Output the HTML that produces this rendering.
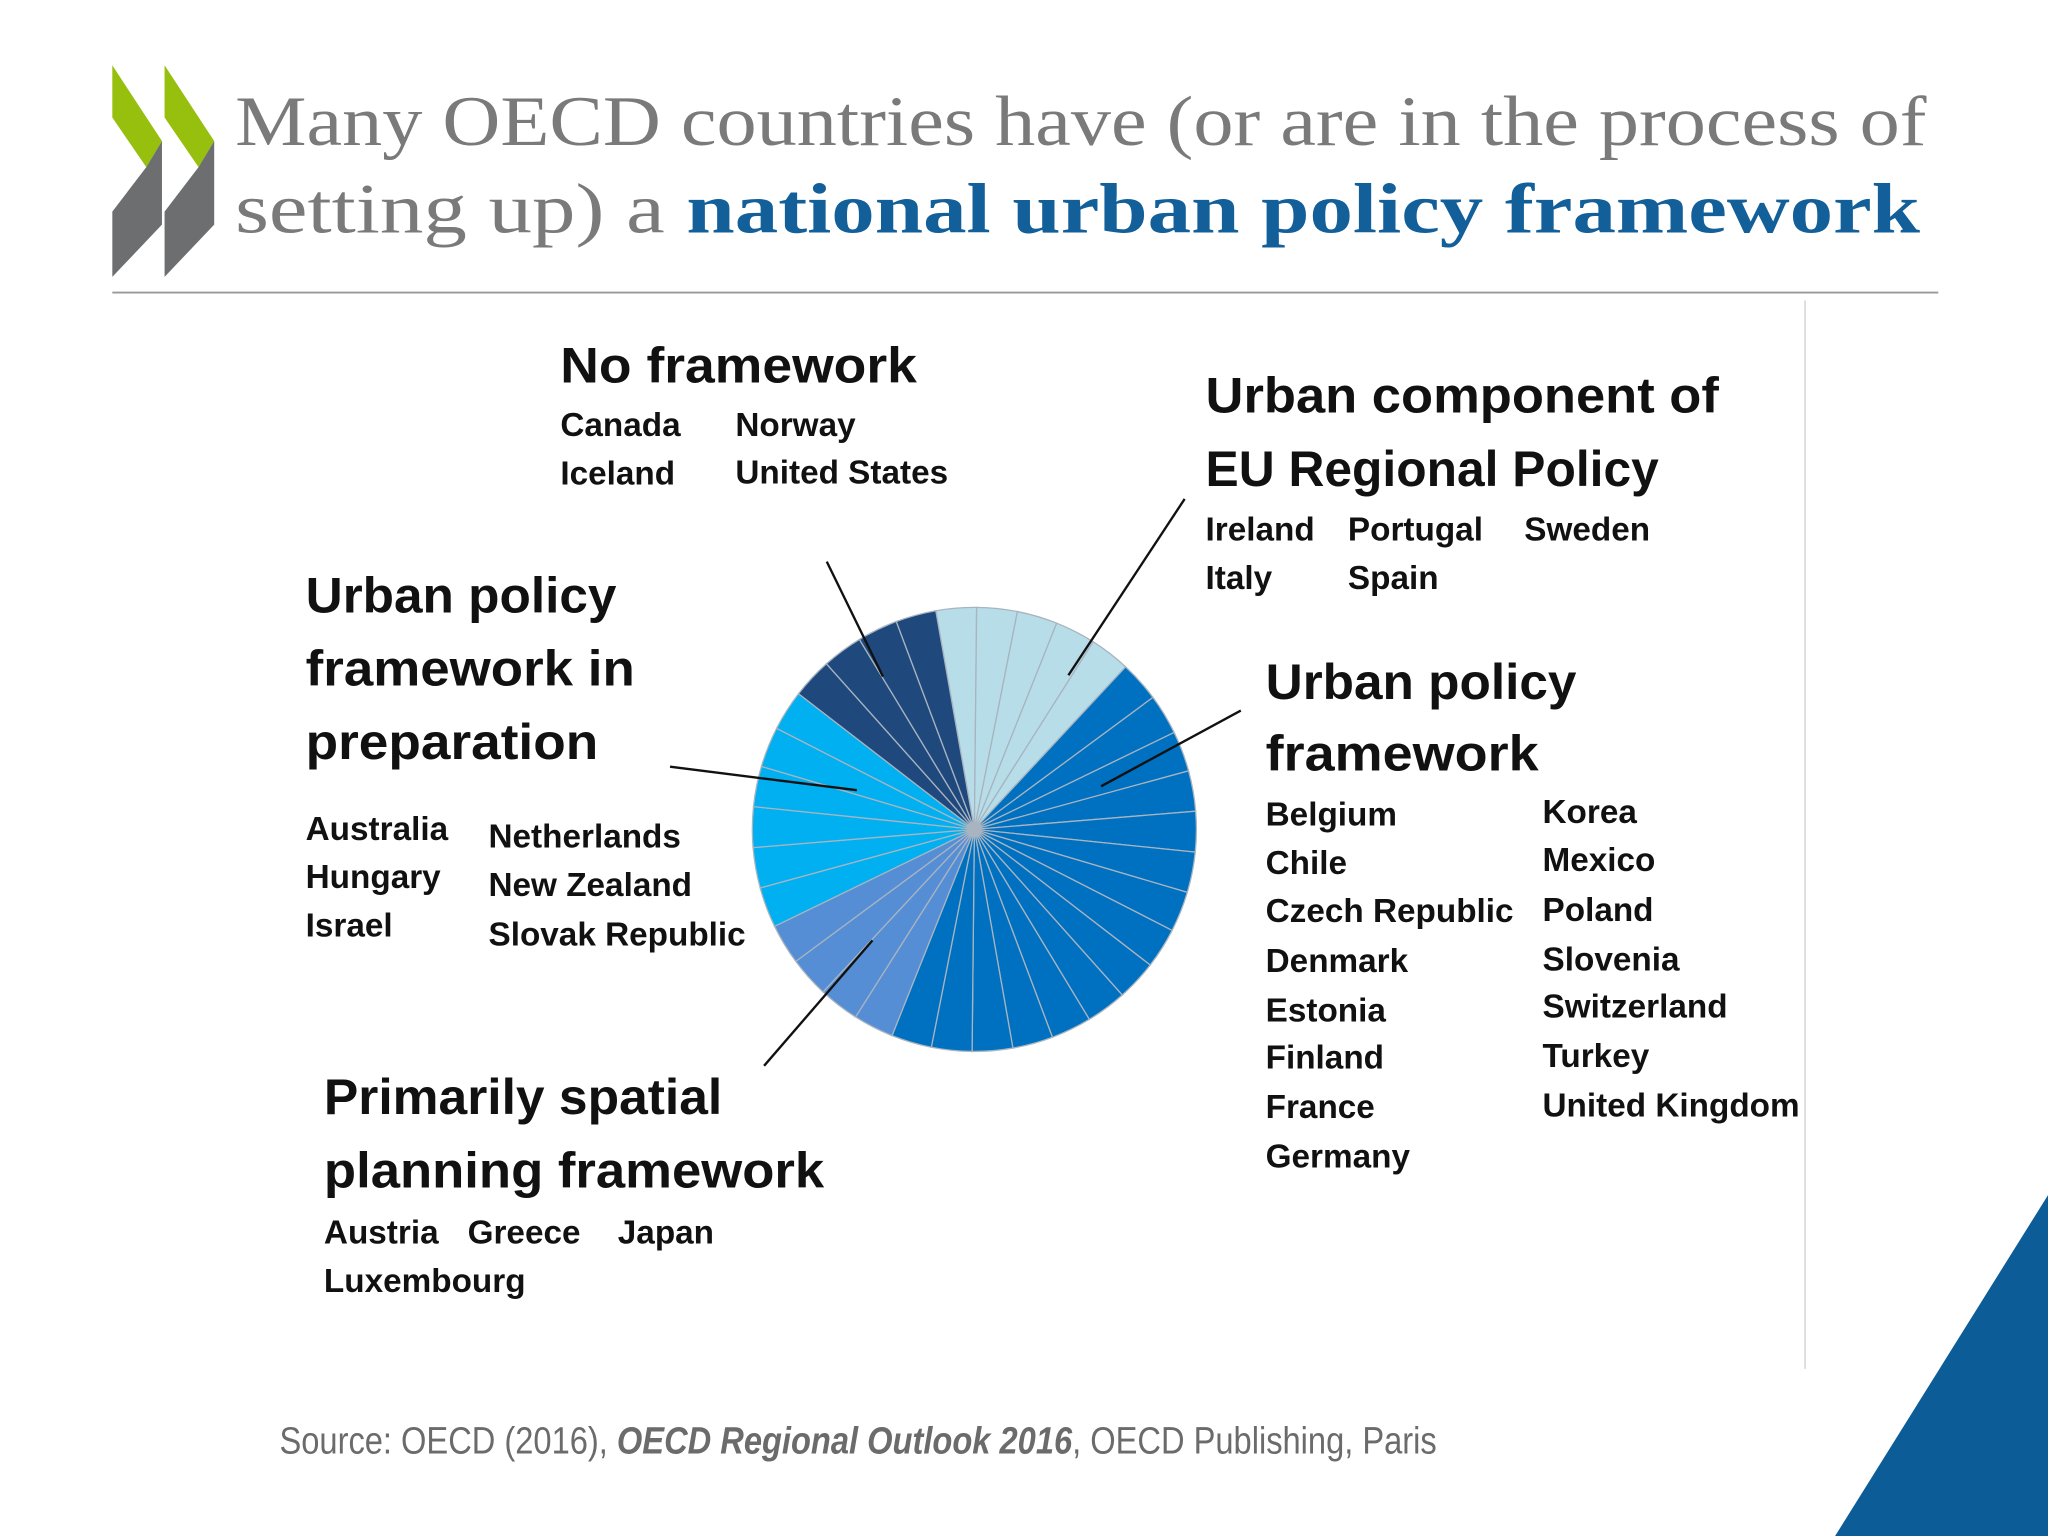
<!DOCTYPE html>
<html><head><meta charset="utf-8"><style>
html,body{margin:0;padding:0;background:#fff;}
svg{display:block;}
.h{font-family:"Liberation Sans",sans-serif;font-weight:bold;font-size:38px;fill:#111;}
.c{font-family:"Liberation Sans",sans-serif;font-weight:bold;font-size:25.5px;fill:#111;}
</style></head><body>
<svg id="chart" width="2048" height="1536" viewBox="0 0 1568 1176" xmlns="http://www.w3.org/2000/svg">
<rect width="1568" height="1176" fill="#fff"/>
<g>
<polygon points="86,50 124,108 112,128 86,90" fill="#97bf0d"/>
<polygon points="124,108 124,172 86,212 86,162 112,128" fill="#6d6e70"/>
<polygon points="126,50 164,108 152,128 126,90" fill="#97bf0d"/>
<polygon points="164,108 164,172 126,212 126,162 152,128" fill="#6d6e70"/>
</g>
<text x="180" y="111" font-family="Liberation Serif, serif" font-size="54" fill="#7a7a7a" textLength="1295" lengthAdjust="spacingAndGlyphs">Many OECD countries have (or are in the process of</text>
<text x="180" y="178" font-family="Liberation Serif, serif" font-size="54" fill="#7a7a7a" textLength="1290" lengthAdjust="spacingAndGlyphs">setting up) a <tspan font-weight="bold" fill="#135f9a">national urban policy framework</tspan></text>
<line x1="86" y1="224" x2="1484" y2="224" stroke="#999" stroke-width="1.5"/>
<line x1="1382" y1="230" x2="1382" y2="1048" stroke="#ddd" stroke-width="1.5"/>
<polygon points="1568,915 1568,1176 1405,1176" fill="#0b5c97"/>
<g id="pie"></g>
<g stroke="#111" stroke-width="1.8">
<line x1="633" y1="430" x2="676" y2="518"/>
<line x1="907" y1="382" x2="818" y2="517"/>
<line x1="950" y1="544" x2="843" y2="602"/>
<line x1="513" y1="587" x2="656" y2="605"/>
<line x1="585" y1="816" x2="668" y2="720"/>
</g>
<g>
<text class="h" x="429" y="293" textLength="273" lengthAdjust="spacingAndGlyphs">No framework</text>
<text class="c" x="429" y="334">Canada</text><text class="c" x="563" y="334">Norway</text>
<text class="c" x="429" y="371">Iceland</text><text class="c" x="563" y="370">United States</text>
</g>
<g>
<text class="h" x="923" y="316" textLength="393" lengthAdjust="spacingAndGlyphs">Urban component of</text>
<text class="h" x="923" y="372" textLength="347" lengthAdjust="spacingAndGlyphs">EU Regional Policy</text>
<text class="c" x="923" y="414">Ireland</text><text class="c" x="1032" y="414">Portugal</text><text class="c" x="1167" y="414">Sweden</text>
<text class="c" x="923" y="451">Italy</text><text class="c" x="1032" y="451">Spain</text>
</g>
<g>
<text class="h" x="234" y="469" textLength="238" lengthAdjust="spacingAndGlyphs">Urban policy</text>
<text class="h" x="234" y="525" textLength="252" lengthAdjust="spacingAndGlyphs">framework in</text>
<text class="h" x="234" y="581" textLength="224" lengthAdjust="spacingAndGlyphs">preparation</text>
<text class="c" x="234" y="643">Australia</text><text class="c" x="234" y="680">Hungary</text><text class="c" x="234" y="717">Israel</text>
<text class="c" x="374" y="649">Netherlands</text><text class="c" x="374" y="686">New Zealand</text><text class="c" x="374" y="724">Slovak Republic</text>
</g>
<g>
<text class="h" x="969" y="535" textLength="238" lengthAdjust="spacingAndGlyphs">Urban policy</text>
<text class="h" x="969" y="590" textLength="209" lengthAdjust="spacingAndGlyphs">framework</text>
<text class="c" x="969" y="632">Belgium</text><text class="c" x="969" y="669">Chile</text><text class="c" x="969" y="706">Czech Republic</text><text class="c" x="969" y="744">Denmark</text>
<text class="c" x="969" y="782">Estonia</text><text class="c" x="969" y="818">Finland</text><text class="c" x="969" y="856">France</text><text class="c" x="969" y="894">Germany</text>
<text class="c" x="1181" y="630">Korea</text><text class="c" x="1181" y="667">Mexico</text><text class="c" x="1181" y="705">Poland</text><text class="c" x="1181" y="743">Slovenia</text>
<text class="c" x="1181" y="779">Switzerland</text><text class="c" x="1181" y="817">Turkey</text><text class="c" x="1181" y="855">United Kingdom</text>
</g>
<g>
<text class="h" x="248" y="853" textLength="305" lengthAdjust="spacingAndGlyphs">Primarily spatial</text>
<text class="h" x="248" y="909" textLength="383" lengthAdjust="spacingAndGlyphs">planning framework</text>
<text class="c" x="248" y="952">Austria</text><text class="c" x="358" y="952">Greece</text><text class="c" x="473" y="952">Japan</text>
<text class="c" x="248" y="989">Luxembourg</text>
</g>
<text x="214" y="1113" font-family="Liberation Sans, sans-serif" font-size="29" fill="#6b6b6b" textLength="886" lengthAdjust="spacingAndGlyphs">Source: OECD (2016), <tspan font-weight="bold" font-style="italic">OECD Regional Outlook 2016</tspan>, OECD Publishing, Paris</text>
</svg>
<script>
const categories = ["EU regional policy", "Urban policy framework", "Spatial planning", "In preparation", "No framework"];
const counts = [5, 15, 4, 6, 4];
const colors = ["#b7dde8", "#0070c0", "#558ed5", "#00b0f0", "#1f497d"];
const startDeg = -10;
const cx = 746, cy = 635, r = 170;
const g = document.getElementById('pie');
const total = counts.reduce((a, b) => a + b, 0);
const step = 360 / total;
function pt(deg) { const a = (deg - 90) * Math.PI / 180; return [cx + r * Math.cos(a), cy + r * Math.sin(a)]; }
let ang = startDeg;
counts.forEach((n, ci) => {
  for (let i = 0; i < n; i++) {
    const a0 = ang, a1 = ang + step;
    const p0 = pt(a0), p1 = pt(a1);
    const p = document.createElementNS('http://www.w3.org/2000/svg', 'path');
    p.setAttribute('d', `M${cx},${cy} L${p0[0]},${p0[1]} A${r},${r} 0 0 1 ${p1[0]},${p1[1]} Z`);
    p.setAttribute('fill', colors[ci]);
    p.setAttribute('stroke', '#a8b4c0');
    p.setAttribute('stroke-width', '1');
    
    
    g.appendChild(p);
    ang = a1;
  }
});
</script>
</body></html>
